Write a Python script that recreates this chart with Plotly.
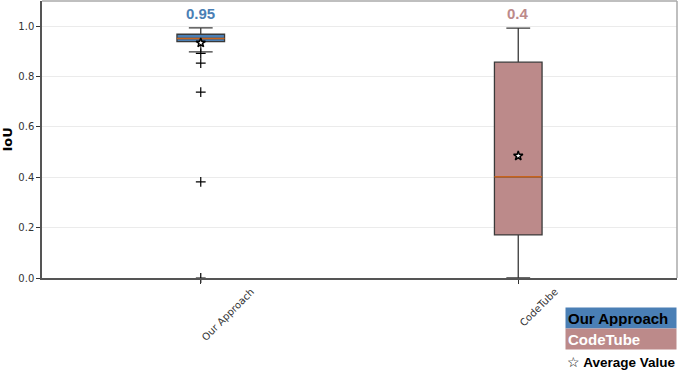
import plotly.graph_objects as go

# ---- data ----
methods = ["Our Approach", "CodeTube"]
q1 = [0.939, 0.171]
median = [0.951, 0.402]
q3 = [0.968, 0.857]
lower_whisker = [0.898, 0.0]
upper_whisker = [0.993, 0.992]
means = [0.934, 0.485]
outliers_ours = [0.892, 0.853, 0.738, 0.382, 0.0]
outliers_codetube = []
top_labels = ["0.95", "0.4"]
colors = ["#4a7fb5", "#bc8a8a"]
legend_text_colors = ["#000000", "#ffffff"]

positions = list(range(len(methods)))
box_w = 0.15

fig = go.Figure()

for i, m in enumerate(methods):
    fig.add_trace(go.Box(
        x=[positions[i]], q1=[q1[i]], median=[median[i]], q3=[q3[i]],
        lowerfence=[lower_whisker[i]], upperfence=[upper_whisker[i]],
        width=box_w, whiskerwidth=0.5, fillcolor=colors[i],
        line=dict(color="#3a3a3a", width=1.3), boxpoints=False,
        showlegend=False, hoverinfo="skip"))
    # median line
    fig.add_trace(go.Scatter(
        x=[positions[i] - box_w / 2, positions[i] + box_w / 2],
        y=[median[i], median[i]], mode="lines",
        line=dict(color="#c8631c", width=1.6), showlegend=False, hoverinfo="skip"))

# outliers
out_lists = [outliers_ours, outliers_codetube]
for i, ol in enumerate(out_lists):
    if ol:
        fig.add_trace(go.Scatter(
            x=[positions[i]] * len(ol), y=ol, mode="markers",
            marker=dict(symbol="cross-thin", size=7, line=dict(color="black", width=1.2)),
            showlegend=False, hoverinfo="skip", cliponaxis=False))

# means
fig.add_trace(go.Scatter(
    x=positions, y=means, mode="markers",
    marker=dict(symbol="star", size=7, color="white", line=dict(color="black", width=1.5)),
    showlegend=False, hoverinfo="skip"))

# top labels
for i, t in enumerate(top_labels):
    fig.add_annotation(x=positions[i], y=1.05, xref="x", yref="y", text="<b>%s</b>" % t,
                       showarrow=False, xanchor="center",
                       font=dict(family="Liberation Sans, Arial", size=15, color=colors[i]))

# rotated x tick labels
xshifts = [27, 20]
yshifts = [-36, -29]
for i, m in enumerate(methods):
    fig.add_annotation(x=positions[i], y=0, xref="x", yref="paper", text=m, showarrow=False,
                       textangle=-45, xshift=xshifts[i], yshift=yshifts[i],
                       xanchor="center", yanchor="middle",
                       font=dict(family="DejaVu Sans", size=10, color="#333333"))

# y label
fig.add_annotation(x=-0.055, y=0.5, xref="paper", yref="paper", text="<b>IoU</b>",
                   showarrow=False, textangle=-90, xanchor="center", yanchor="middle",
                   font=dict(family="DejaVu Sans", size=13, color="black"))

# legend (custom)
leg_y = [-0.146, -0.219]
for i, m in enumerate(methods):
    fig.add_annotation(x=1.0, y=leg_y[i], xref="paper", yref="paper", text="<b>%s</b>" % m,
                       showarrow=False, xanchor="right", yanchor="middle", align="left",
                       width=106, height=16, bgcolor=colors[i], borderpad=2,
                       font=dict(family="Liberation Sans, Arial", size=15, color=legend_text_colors[i]))
fig.add_annotation(x=0.823, y=-0.304, xref="paper", yref="paper",
                   text="\u2606<b> Average Value</b>", showarrow=False, xanchor="left", yanchor="middle",
                   font=dict(family="Liberation Sans, Arial", size=13.5, color="black"))

# top/right lighter frame
fig.add_shape(type="line", xref="paper", yref="paper", x0=0, x1=1, y0=1, y1=1,
              line=dict(color="#aaaaaa", width=1.5))
fig.add_shape(type="line", xref="paper", yref="paper", x0=1, x1=1, y0=0, y1=1,
              line=dict(color="#aaaaaa", width=1.5))

fig.update_layout(
    width=685, height=370,
    margin=dict(l=42, r=8, t=1, b=92, autoexpand=False),
    plot_bgcolor="white", paper_bgcolor="white",
    font=dict(family="DejaVu Sans", size=10, color="#333333"),
    xaxis=dict(range=[-0.5, 1.5], tickvals=positions, ticktext=["", ""],
               ticks="outside", ticklen=4, tickcolor="#333333", automargin=False,
               showline=True, linecolor="#555555", linewidth=1.5,
               showgrid=False, zeroline=False),
    yaxis=dict(range=[0, 1.1], tickvals=[0, 0.2, 0.4, 0.6, 0.8, 1.0],
               ticktext=["0.0", "0.2", "0.4", "0.6", "0.8", "1.0"],
               ticks="outside", ticklen=4, tickcolor="#333333", automargin=False,
               showline=True, linecolor="#555555", linewidth=1.5,
               showgrid=True, gridcolor="#ebebeb", gridwidth=1, zeroline=False,
               tickfont=dict(size=10, color="#333333")),
)

fig.write_html("out.html", config={"displayModeBar": False},
               post_script="document.body.style.margin='0';document.body.style.overflow='hidden';")
